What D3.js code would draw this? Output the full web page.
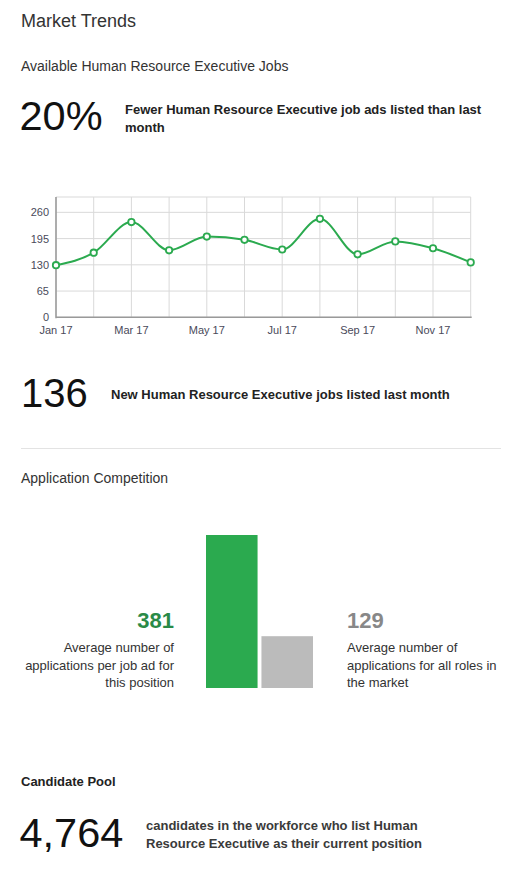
<!DOCTYPE html>
<html>
<head>
<meta charset="utf-8">
<script src="https://cdn.jsdelivr.net/npm/d3@7"></script>
<style>
  body { margin: 0; background: #fff; }
  svg { display: block; font-family: "Liberation Sans", Arial, sans-serif; }
</style>
</head>
<body>
<div id="chart"></div>
<script>
'use strict';

// monthly job ads
const months = ["Jan 17", "Feb 17", "Mar 17", "Apr 17", "May 17", "Jun 17",
  "Jul 17", "Aug 17", "Sep 17", "Oct 17", "Nov 17", "Dec 17"];
const jobs = [129, 160, 236, 166, 200, 192, 168, 244, 156, 188, 171, 136];
const yTicks = [0, 65, 130, 195, 260];

// application competition
const compLabels = ["This position", "All roles"];
const compValues = [381, 129];
const compColors = ["#2baa4f", "#bbbbbb"];

const width = 517, height = 877;
const svg = d3.select('#chart').append('svg')
  .attr('width', width).attr('height', height);

function addText(x, y, str, opts) {
  opts = opts || {};
  return svg.append('text')
    .attr('x', x).attr('y', y)
    .attr('font-size', opts.size || 13)
    .attr('font-weight', opts.weight || 'normal')
    .attr('fill', opts.fill || '#333')
    .attr('text-anchor', opts.anchor || 'start')
    .text(str);
}

function addLines(x, y, lines, lh, opts) {
  lines.forEach((l, i) => addText(x, y + i * lh, l, opts));
}

// header
addText(21, 27, "Market Trends", { size: 18, fill: '#333' });
addText(21, 71, "Available Human Resource Executive Jobs", { size: 14 });
addText(19.5, 130, "20%", { size: 41.5, fill: '#111' });
addLines(125, 114, ["Fewer Human Resource Executive job ads listed than last", "month"], 17.5,
  { size: 13, weight: 'bold', fill: '#222' });

// line chart
const plot = { left: 56, right: 470.7, top: 197, bottom: 317.3 };
const x = d3.scalePoint().domain(months).range([plot.left, plot.right]);
const y = d3.scaleLinear().domain([0, 298]).range([plot.bottom, plot.top]);

const g = svg.append('g');

// vertical grid
g.selectAll('line.vgrid').data(months).enter()
  .append('line')
  .attr('class', 'vgrid')
  .attr('x1', d => x(d)).attr('x2', d => x(d))
  .attr('y1', plot.top).attr('y2', plot.bottom)
  .attr('stroke', '#d9d9d9').attr('stroke-width', 1);

// horizontal grid
g.selectAll('line.hgrid').data(yTicks.concat([298])).enter()
  .append('line')
  .attr('class', 'hgrid')
  .attr('x1', plot.left).attr('x2', plot.right)
  .attr('y1', d => y(d)).attr('y2', d => y(d))
  .attr('stroke', '#d9d9d9').attr('stroke-width', 1);

// axes lines
g.append('line')
  .attr('x1', plot.left).attr('x2', plot.left)
  .attr('y1', plot.top).attr('y2', plot.bottom + 1)
  .attr('stroke', '#999').attr('stroke-width', 1.5);
g.append('line')
  .attr('x1', plot.left).attr('x2', plot.right + 1)
  .attr('y1', plot.bottom).attr('y2', plot.bottom)
  .attr('stroke', '#999').attr('stroke-width', 1.5);

// y tick labels
g.selectAll('text.ytick').data(yTicks).enter()
  .append('text')
  .attr('class', 'ytick')
  .attr('x', plot.left - 7)
  .attr('y', d => y(d) + 4)
  .attr('text-anchor', 'end')
  .attr('font-size', 11)
  .attr('fill', '#4a4a5a')
  .text(d => d);

// x tick labels (every other month)
g.selectAll('text.xtick').data(months.filter((d, i) => i % 2 == 0)).enter()
  .append('text')
  .attr('class', 'xtick')
  .attr('x', d => x(d))
  .attr('y', 334)
  .attr('text-anchor', 'middle')
  .attr('font-size', 11)
  .attr('fill', '#4a4a5a')
  .text(d => d);

const line = d3.line()
  .x((d, i) => x(months[i]))
  .y(d => y(d))
  .curve(d3.curveMonotoneX);

g.append('path')
  .datum(jobs)
  .attr('d', line)
  .attr('fill', 'none')
  .attr('stroke', '#2baa4f')
  .attr('stroke-width', 2);

g.selectAll('circle.pt').data(jobs).enter()
  .append('circle')
  .attr('class', 'pt')
  .attr('cx', (d, i) => x(months[i]))
  .attr('cy', d => y(d))
  .attr('r', 3.2)
  .attr('fill', '#fff')
  .attr('stroke', '#2baa4f')
  .attr('stroke-width', 1.8);

// last month
addText(21, 407, jobs[jobs.length - 1], { size: 40, fill: '#111' });
addText(111, 399, "New Human Resource Executive jobs listed last month",
  { size: 13, weight: 'bold', fill: '#222' });

svg.append('line')
  .attr('x1', 21).attr('x2', 501)
  .attr('y1', 448.5).attr('y2', 448.5)
  .attr('stroke', '#e3e3e3').attr('stroke-width', 1);

addText(21, 483, "Application Competition", { size: 14 });

// competition bars
const bx = d3.scaleBand().domain(compLabels).range([206, 313]).paddingInner(0.07);
const by = d3.scaleLinear().domain([0, compValues[0]]).range([688, 535]);

svg.selectAll('rect.comp').data(compValues).enter()
  .append('rect')
  .attr('class', 'comp')
  .attr('x', (d, i) => bx(compLabels[i]))
  .attr('y', d => by(d))
  .attr('width', bx.bandwidth())
  .attr('height', d => 688 - by(d))
  .attr('fill', (d, i) => compColors[i]);

addText(174, 628, compValues[0], { size: 22, weight: 'bold', fill: '#2a8a47', anchor: 'end' });
addLines(174, 652, ["Average number of", "applications per job ad for", "this position"], 17.5,
  { size: 13, anchor: 'end' });

addText(347, 628, compValues[1], { size: 22, weight: 'bold', fill: '#888' });
addLines(347, 652, ["Average number of", "applications for all roles in", "the market"], 17.5,
  { size: 13 });

// candidate pool
addText(21, 786, "Candidate Pool", { size: 13, weight: 'bold', fill: '#222' });
addText(19.5, 847, "4,764", { size: 41.5, fill: '#111' });
addLines(146, 830, ["candidates in the workforce who list Human", "Resource Executive as their current position"], 17.5,
  { size: 13, weight: 'bold', fill: '#3a3a3a' });
</script>
</body>
</html>
